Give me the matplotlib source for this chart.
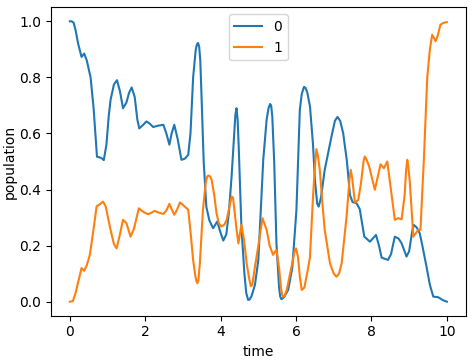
import numpy as np
import matplotlib
matplotlib.use("Agg")
import matplotlib.pyplot as plt

# state 0 population
time_0 = [0, 0.05, 0.1, 0.15, 0.22, 0.31, 0.38, 0.45, 0.55, 0.63, 0.72, 0.78, 0.84, 0.9, 0.97,
          1.03, 1.08, 1.17, 1.25, 1.33, 1.41, 1.5, 1.57, 1.64, 1.72, 1.79, 1.84, 1.94, 2.03, 2.12,
          2.21, 2.35, 2.48, 2.56, 2.64, 2.7, 2.77, 2.86, 2.96, 3.05, 3.14, 3.2, 3.27, 3.34, 3.37,
          3.40, 3.43, 3.46, 3.49, 3.55, 3.62, 3.70, 3.80, 3.91, 4.0, 4.07, 4.15, 4.22, 4.29, 4.36,
          4.39, 4.42, 4.45, 4.48, 4.55, 4.63, 4.68, 4.73, 4.77, 4.82, 4.91, 5.0, 5.13, 5.22, 5.27,
          5.31, 5.34, 5.37, 5.42, 5.48, 5.55, 5.58, 5.61, 5.65, 5.70, 5.79, 5.9, 6.01, 6.10, 6.15,
          6.21, 6.25, 6.30, 6.37, 6.45, 6.50, 6.56, 6.60, 6.66, 6.76, 6.94, 7.03, 7.10, 7.17, 7.25,
          7.35, 7.43, 7.5, 7.6, 7.69, 7.81, 7.96, 8.12, 8.2, 8.27, 8.44, 8.52, 8.62, 8.72, 8.80,
          8.93, 9.0, 9.08, 9.12, 9.20, 9.28, 9.35, 9.46, 9.55, 9.64, 9.77, 9.9, 10.0]
pop_0 = [1.0, 1.0, 0.995, 0.97, 0.92, 0.873, 0.885, 0.86, 0.80, 0.69, 0.517, 0.515, 0.512, 0.505, 0.56,
         0.66, 0.72, 0.775, 0.79, 0.75, 0.69, 0.71, 0.745, 0.764, 0.73, 0.65, 0.618, 0.63, 0.643, 0.635,
         0.623, 0.628, 0.631, 0.6, 0.56, 0.6, 0.631, 0.58, 0.506, 0.51, 0.524, 0.6, 0.80, 0.90, 0.917,
         0.923, 0.91, 0.86, 0.744, 0.50, 0.339, 0.29, 0.262, 0.286, 0.245, 0.218, 0.24, 0.32, 0.446, 0.6,
         0.665, 0.69, 0.65, 0.55, 0.268, 0.1, 0.03, 0.006, 0.008, 0.02, 0.06, 0.15, 0.506, 0.65, 0.69,
         0.705, 0.70, 0.66, 0.5, 0.208, 0.05, 0.018, 0.009, 0.012, 0.02, 0.042, 0.12, 0.327, 0.684, 0.74,
         0.766, 0.763, 0.745, 0.696, 0.56, 0.435, 0.35, 0.339, 0.37, 0.47, 0.589, 0.645, 0.659, 0.645, 0.601,
         0.5, 0.38, 0.355, 0.352, 0.33, 0.232, 0.214, 0.238, 0.2, 0.157, 0.149, 0.17, 0.232, 0.225, 0.208,
         0.161, 0.18, 0.25, 0.274, 0.265, 0.244, 0.2, 0.125, 0.06, 0.018, 0.016, 0.005, 0.0]

# state 1 population
time_1 = [0, 0.08, 0.15, 0.22, 0.31, 0.38, 0.45, 0.53, 0.62, 0.71, 0.8, 0.88, 0.95, 1.08,
          1.17, 1.24, 1.32, 1.41, 1.5, 1.61, 1.7, 1.83, 1.95, 2.08, 2.17, 2.25, 2.35, 2.48,
          2.56, 2.64, 2.70, 2.77, 2.85, 2.92, 3.0, 3.14, 3.2, 3.27, 3.33, 3.36, 3.38, 3.41,
          3.45, 3.53, 3.60, 3.64, 3.67, 3.72, 3.76, 3.83, 3.89, 3.95, 4.02, 4.1, 4.16, 4.22,
          4.29, 4.33, 4.38, 4.42, 4.47, 4.55, 4.62, 4.69, 4.76, 4.80, 4.84, 4.91, 5.0, 5.11,
          5.22, 5.30, 5.39, 5.48, 5.55, 5.60, 5.63, 5.66, 5.70, 5.75, 5.88, 5.96, 6.0, 6.05,
          6.1, 6.15, 6.22, 6.32, 6.37, 6.45, 6.50, 6.54, 6.58, 6.63, 6.70, 6.76, 6.90, 7.0,
          7.07, 7.14, 7.21, 7.34, 7.42, 7.45, 7.49, 7.56, 7.65, 7.72, 7.79, 7.82, 7.86, 7.94,
          8.09, 8.24, 8.33, 8.42, 8.53, 8.62, 8.71, 8.80, 8.88, 8.92, 8.95, 8.98, 9.02, 9.11,
          9.24, 9.30, 9.39, 9.48, 9.55, 9.61, 9.66, 9.70, 9.76, 9.83, 9.92, 10.0]
pop_1 = [0.0, 0.002, 0.03, 0.07, 0.12, 0.11, 0.13, 0.167, 0.25, 0.34, 0.348, 0.357, 0.34, 0.256,
         0.205, 0.19, 0.235, 0.292, 0.28, 0.232, 0.26, 0.333, 0.32, 0.312, 0.318, 0.324, 0.318, 0.313,
         0.325, 0.349, 0.33, 0.31, 0.33, 0.354, 0.345, 0.328, 0.25, 0.149, 0.09, 0.072, 0.066, 0.075,
         0.14, 0.327, 0.42, 0.445, 0.45, 0.447, 0.435, 0.38, 0.316, 0.28, 0.268, 0.275, 0.292, 0.33,
         0.375, 0.37, 0.31, 0.26, 0.208, 0.274, 0.22, 0.137, 0.08, 0.055, 0.06, 0.125, 0.2, 0.298,
         0.256, 0.2, 0.167, 0.185, 0.12, 0.05, 0.025, 0.018, 0.022, 0.04, 0.125, 0.18, 0.19, 0.16,
         0.09, 0.042, 0.05, 0.12, 0.16, 0.375, 0.48, 0.544, 0.52, 0.47, 0.35, 0.256, 0.137, 0.1,
         0.089, 0.1, 0.137, 0.303, 0.44, 0.47, 0.44, 0.354, 0.363, 0.42, 0.5, 0.518, 0.51, 0.482,
         0.399, 0.49, 0.476, 0.50, 0.387, 0.292, 0.298, 0.294, 0.38, 0.47, 0.506, 0.48, 0.423, 0.232,
         0.256, 0.256, 0.506, 0.80, 0.9, 0.952, 0.94, 0.929, 0.95, 0.988, 0.995, 0.997]

fig = plt.figure(figsize=(4.74, 3.61), dpi=100)
ax = fig.add_axes([51/474, 1 - 315.7/361, 414.7/474, 308.4/361])

ax.plot(time_0, pop_0, label='0')
ax.plot(time_1, pop_1, label='1')

ax.set_xlabel('time')
ax.set_ylabel('population', labelpad=2)
ax.legend(loc='upper center')

fig.savefig('out.png', dpi=100)
